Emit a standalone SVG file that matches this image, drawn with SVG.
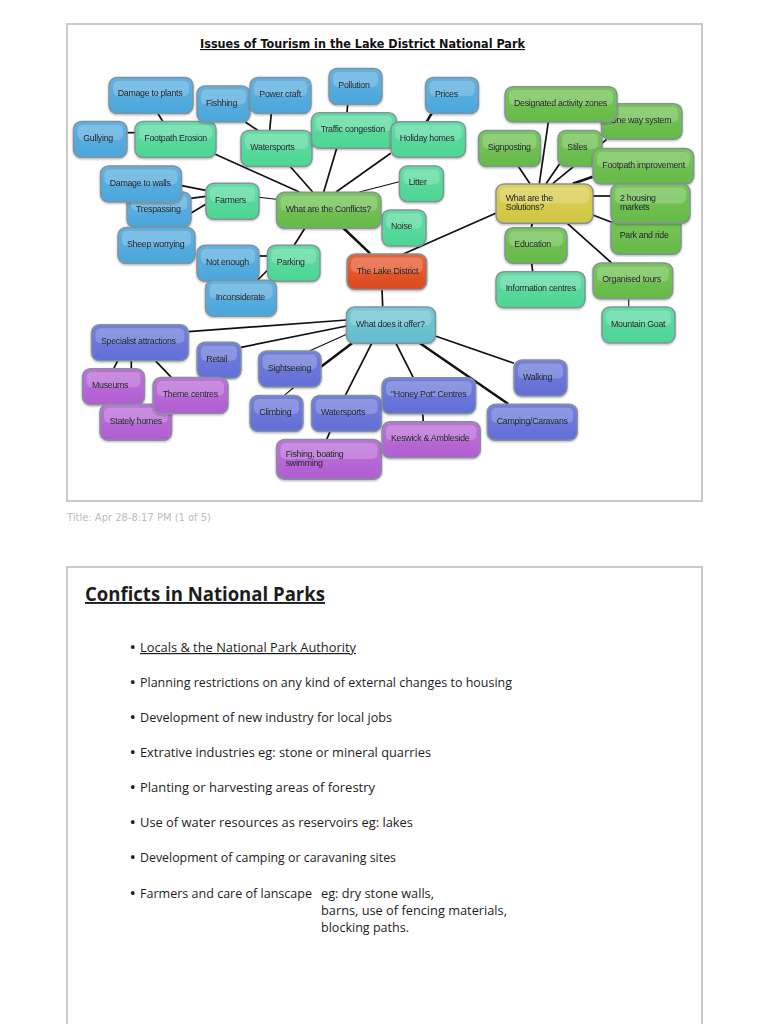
<svg xmlns="http://www.w3.org/2000/svg" width="768" height="1024" viewBox="0 0 768 1024">
<style>
.frame{fill:#fff;stroke:#c9c9c9;stroke-width:2}
.n{stroke:#84939a;stroke-width:1.5}
.g{fill:#fff;fill-opacity:.2;stroke:none}
.t{font:8.8px "Liberation Sans",Arial,sans-serif;letter-spacing:-.27px;fill:#23262c}
.c1{stroke:#111;stroke-width:1.1;fill:none}
.c2{stroke:#111;stroke-width:1.7;fill:none}
.c3{stroke:#111;stroke-width:2.5;fill:none}
.blue{fill:url(#blue)}.mint{fill:url(#mint)}.lime{fill:url(#lime)}.purple{fill:url(#purple)}.peri{fill:url(#peri)}.teal{fill:url(#teal)}.red{fill:url(#red)}.yellow{fill:url(#yellow)}
.h{font-family:"Open Sans","DejaVu Sans",sans-serif;fill:#1c1c1c}
.b{font-size:12px}
.d{font-size:17px}
</style>
<defs>
<linearGradient id="blue" x1="0" y1="0" x2="0" y2="1"><stop offset="0" stop-color="#62b2e0"/><stop offset="1" stop-color="#4aa6dc"/></linearGradient>
<linearGradient id="mint" x1="0" y1="0" x2="0" y2="1"><stop offset="0" stop-color="#62dca6"/><stop offset="1" stop-color="#4cd692"/></linearGradient>
<linearGradient id="lime" x1="0" y1="0" x2="0" y2="1"><stop offset="0" stop-color="#78c65a"/><stop offset="1" stop-color="#66b948"/></linearGradient>
<linearGradient id="purple" x1="0" y1="0" x2="0" y2="1"><stop offset="0" stop-color="#bd74d8"/><stop offset="1" stop-color="#b15dd2"/></linearGradient>
<linearGradient id="peri" x1="0" y1="0" x2="0" y2="1"><stop offset="0" stop-color="#7480da"/><stop offset="1" stop-color="#626ed8"/></linearGradient>
<linearGradient id="teal" x1="0" y1="0" x2="0" y2="1"><stop offset="0" stop-color="#78c8d4"/><stop offset="1" stop-color="#62bccc"/></linearGradient>
<linearGradient id="red" x1="0" y1="0" x2="0" y2="1"><stop offset="0" stop-color="#e8633a"/><stop offset="1" stop-color="#dc4a1e"/></linearGradient>
<linearGradient id="yellow" x1="0" y1="0" x2="0" y2="1"><stop offset="0" stop-color="#dcd158"/><stop offset="1" stop-color="#d0c540"/></linearGradient>
<filter id="s" x="-10%" y="-10%" width="120%" height="125%"><feDropShadow dx="0" dy="1" stdDeviation="0.8" flood-color="#000" flood-opacity=".3"/></filter>
</defs>
<rect class="frame" x="67" y="24" width="635" height="477"/>
<rect class="frame" x="67" y="567" width="635" height="480"/>
<text x="200" y="48" font-family="'DejaVu Sans',sans-serif" font-weight="bold" font-size="11.5" fill="#111" textLength="325" lengthAdjust="spacingAndGlyphs" text-decoration="underline">Issues of Tourism in the Lake District National Park</text>
<g id="connectors">
<line class="c2" x1="157.7" y1="113.3" x2="162.7" y2="121.3"/>
<line class="c2" x1="127" y1="132.7" x2="135" y2="132.7"/>
<line class="c2" x1="245.3" y1="122" x2="257.7" y2="130.3"/>
<line class="c2" x1="271.3" y1="113.3" x2="269.7" y2="130.3"/>
<line class="c2" x1="347.7" y1="104" x2="347" y2="112.7"/>
<line class="c2" x1="215.3" y1="154.3" x2="299.3" y2="192"/>
<line class="c2" x1="290" y1="166.3" x2="312.7" y2="192"/>
<line class="c2" x1="336.7" y1="148.3" x2="323.7" y2="192"/>
<line class="c2" x1="390.7" y1="153.3" x2="336" y2="192"/>
<line class="c1" x1="399.3" y1="181.7" x2="359.3" y2="192"/>
<line class="c1" x1="258.7" y1="197.3" x2="276" y2="199.3"/>
<line class="c2" x1="181.7" y1="185.7" x2="205.7" y2="190.3"/>
<line class="c2" x1="190.7" y1="198.3" x2="205.7" y2="196.3"/>
<line class="c2" x1="190.7" y1="213.3" x2="205.7" y2="204.3"/>
<line class="c2" x1="305" y1="228" x2="294.3" y2="245"/>
<line class="c3" x1="343.3" y1="228" x2="370" y2="253.3"/>
<line class="c2" x1="258.7" y1="256" x2="267.3" y2="256"/>
<line class="c2" x1="257.7" y1="280" x2="267.7" y2="270"/>
<line class="c2" x1="403.3" y1="254" x2="495.7" y2="213.3"/>
<line class="c2" x1="382" y1="289.3" x2="382.7" y2="306.7"/>
<line class="c3" x1="431.7" y1="113.3" x2="426.7" y2="121.7"/>
<line class="c2" x1="548.3" y1="122" x2="539.3" y2="183.7"/>
<line class="c2" x1="518.3" y1="166.3" x2="530" y2="183.7"/>
<line class="c2" x1="560" y1="163.3" x2="546" y2="183.7"/>
<line class="c2" x1="606.7" y1="139.3" x2="552.7" y2="183.7"/>
<line class="c3" x1="592.7" y1="176.7" x2="572.7" y2="183.7"/>
<line class="c2" x1="592.7" y1="196" x2="610.7" y2="196"/>
<line class="c2" x1="592.7" y1="215" x2="611.7" y2="222.3"/>
<line class="c2" x1="532.3" y1="223.3" x2="531.3" y2="227.7"/>
<line class="c2" x1="531.7" y1="263.3" x2="532.7" y2="271.7"/>
<line class="c2" x1="567.3" y1="223.3" x2="611.7" y2="263"/>
<line class="c1" x1="628.7" y1="298.7" x2="628.7" y2="307"/>
<line class="c2" x1="188.3" y1="331.7" x2="346.7" y2="320"/>
<line class="c2" x1="241" y1="347.3" x2="346.7" y2="326"/>
<line class="c1" x1="309.3" y1="351" x2="346.7" y2="334.3"/>
<line class="c3" x1="321" y1="366.7" x2="352" y2="343.3"/>
<line class="c2" x1="345.3" y1="395.3" x2="371.7" y2="343.3"/>
<line class="c2" x1="117.7" y1="360.7" x2="113.7" y2="368.7"/>
<line class="c2" x1="131.3" y1="360.7" x2="131.3" y2="404"/>
<line class="c2" x1="155.3" y1="360.7" x2="171.3" y2="377.3"/>
<line class="c1" x1="294.3" y1="387" x2="284.3" y2="395.3"/>
<line class="c2" x1="330" y1="431.7" x2="326.7" y2="439.3"/>
<line class="c2" x1="396" y1="343.3" x2="413.3" y2="377.7"/>
<line class="c3" x1="420" y1="343.3" x2="508.3" y2="404"/>
<line class="c2" x1="435.3" y1="336" x2="514" y2="363.3"/>
<line class="c2" x1="422.7" y1="413.7" x2="423.3" y2="421.7"/>
</g>
<g id="n-dplants" filter="url(#s)"><rect class="n blue" x="109" y="77.5" width="84" height="36" rx="8"/><rect class="g" x="113" y="81" width="76" height="15" rx="5"/><text class="t" x="117.7" y="96">Damage to plants</text></g>
<g id="n-gullying" filter="url(#s)"><rect class="n blue" x="73.5" y="121.5" width="53.5" height="36" rx="8"/><rect class="g" x="77.5" y="125" width="45.5" height="15" rx="5"/><text class="t" x="83.3" y="141">Gullying</text></g>
<g id="n-footpath" filter="url(#s)"><rect class="n mint" x="135" y="121.5" width="81" height="36" rx="8"/><rect class="g" x="139" y="125" width="73" height="15" rx="5"/><text class="t" x="144.3" y="141">Footpath Erosion</text></g>
<g id="n-fishhing" filter="url(#s)"><rect class="n blue" x="197" y="86" width="53" height="36" rx="8"/><rect class="g" x="201" y="89.5" width="45" height="15" rx="5"/><text class="t" x="206" y="106">Fishhing</text></g>
<g id="n-power" filter="url(#s)"><rect class="n blue" x="250" y="77.5" width="61" height="36" rx="8"/><rect class="g" x="254" y="81" width="53" height="15" rx="5"/><text class="t" x="259.3" y="97">Power craft</text></g>
<g id="n-pollution" filter="url(#s)"><rect class="n blue" x="329" y="68.5" width="53" height="36" rx="8"/><rect class="g" x="333" y="72" width="45" height="15" rx="5"/><text class="t" x="338.3" y="88.3">Pollution</text></g>
<g id="n-watersports1" filter="url(#s)"><rect class="n mint" x="241" y="130.5" width="71" height="36" rx="8"/><rect class="g" x="245" y="134" width="63" height="15" rx="5"/><text class="t" x="250.3" y="150.3">Watersports</text></g>
<g id="n-traffic" filter="url(#s)"><rect class="n mint" x="311.5" y="112.7" width="85" height="35.6" rx="8"/><rect class="g" x="315.5" y="116" width="77" height="15" rx="5"/><text class="t" x="320.7" y="132.3">Traffic congestion</text></g>
<g id="n-holiday" filter="url(#s)"><rect class="n mint" x="391" y="121.7" width="74.5" height="35.6" rx="8"/><rect class="g" x="395" y="125" width="66.5" height="15" rx="5"/><text class="t" x="399.7" y="141.3">Holiday homes</text></g>
<g id="n-prices" filter="url(#s)"><rect class="n blue" x="425.5" y="77.5" width="53" height="36" rx="8"/><rect class="g" x="429.5" y="81" width="45" height="15" rx="5"/><text class="t" x="435" y="96.7">Prices</text></g>
<g id="n-litter" filter="url(#s)"><rect class="n mint" x="399.5" y="166" width="44" height="35.7" rx="8"/><rect class="g" x="403.5" y="169.5" width="36" height="15" rx="5"/><text class="t" x="408.7" y="185.3">Litter</text></g>
<g id="n-noise" filter="url(#s)"><rect class="n mint" x="382" y="210" width="44" height="36" rx="8"/><rect class="g" x="386" y="213.5" width="36" height="15" rx="5"/><text class="t" x="391" y="229.3">Noise</text></g>
<g id="n-trespassing" filter="url(#s)"><rect class="n blue" x="127" y="192" width="64" height="35.5" rx="8"/><rect class="g" x="131" y="195.5" width="56" height="15" rx="5"/><text class="t" x="136" y="212">Trespassing</text></g>
<g id="n-dwalls" filter="url(#s)"><rect class="n blue" x="100.5" y="166" width="81" height="36" rx="8"/><rect class="g" x="104.5" y="169.5" width="73" height="15" rx="5"/><text class="t" x="109.7" y="185.7">Damage to walls</text></g>
<g id="n-sheep" filter="url(#s)"><rect class="n blue" x="118" y="227.5" width="77" height="36" rx="8"/><rect class="g" x="122" y="231" width="69" height="15" rx="5"/><text class="t" x="127" y="247.3">Sheep worrying</text></g>
<g id="n-farmers" filter="url(#s)"><rect class="n mint" x="206" y="183.3" width="53" height="36" rx="8"/><rect class="g" x="210" y="186.8" width="45" height="15" rx="5"/><text class="t" x="215" y="203">Farmers</text></g>
<g id="n-conflicts" filter="url(#s)"><rect class="n lime" x="276.5" y="192.3" width="104.5" height="36" rx="8"/><rect class="g" x="280.5" y="195.8" width="96.5" height="15" rx="5"/><text class="t" x="285.7" y="211.7">What are the Conflicts?</text></g>
<g id="n-notenough" filter="url(#s)"><rect class="n blue" x="197" y="245.3" width="62" height="36" rx="8"/><rect class="g" x="201" y="248.8" width="54" height="15" rx="5"/><text class="t" x="206" y="265">Not enough</text></g>
<g id="n-parking" filter="url(#s)"><rect class="n mint" x="267.5" y="245.3" width="52.5" height="36" rx="8"/><rect class="g" x="271.5" y="248.8" width="44.5" height="15" rx="5"/><text class="t" x="276.7" y="265">Parking</text></g>
<g id="n-inconsiderate" filter="url(#s)"><rect class="n blue" x="205.5" y="280.3" width="71" height="36" rx="8"/><rect class="g" x="209.5" y="283.8" width="63" height="15" rx="5"/><text class="t" x="215.7" y="300">Inconsiderate</text></g>
<g id="n-lake" filter="url(#s)"><rect class="n red" x="347" y="254" width="79.7" height="35.5" rx="8"/><rect class="g" x="351" y="257.5" width="71.7" height="15" rx="5"/><text class="t" x="356.7" y="273.7">The Lake District</text></g>
<g id="n-oneway" filter="url(#s)"><rect class="n lime" x="601.5" y="103.7" width="80.5" height="35.6" rx="8"/><rect class="g" x="605.5" y="107" width="72.5" height="15" rx="5"/><text class="t" x="610" y="123">One way system</text></g>
<g id="n-designated" filter="url(#s)"><rect class="n lime" x="505" y="86.7" width="112" height="35.4" rx="8"/><rect class="g" x="509" y="90" width="104" height="15" rx="5"/><text class="t" x="514" y="106">Designated activity zones</text></g>
<g id="n-signposting" filter="url(#s)"><rect class="n lime" x="478.5" y="130.5" width="62" height="36" rx="8"/><rect class="g" x="482.5" y="134" width="54" height="15" rx="5"/><text class="t" x="487.7" y="150">Signposting</text></g>
<g id="n-stiles" filter="url(#s)"><rect class="n lime" x="558" y="130.5" width="44" height="36" rx="8"/><rect class="g" x="562" y="134" width="36" height="15" rx="5"/><text class="t" x="567.3" y="150">Stiles</text></g>
<g id="n-fimprove" filter="url(#s)"><rect class="n lime" x="593" y="148.5" width="100.7" height="35.5" rx="8"/><rect class="g" x="597" y="152" width="92.7" height="15" rx="5"/><text class="t" x="602.3" y="167.7">Footpath improvement</text></g>
<g id="n-parkride" filter="url(#s)"><rect class="n lime" x="611" y="218" width="70" height="36.3" rx="8"/><text class="t" x="619.7" y="238.3">Park and ride</text></g>
<g id="n-housing" filter="url(#s)"><rect class="n lime" x="611" y="184" width="79" height="39.3" rx="8"/><rect class="g" x="615" y="187.5" width="71" height="16" rx="5"/><text class="t" x="620" y="201">2 housing</text><text class="t" x="620" y="209.7">markets</text></g>
<g id="n-solutions" filter="url(#s)"><rect class="n yellow" x="496" y="184" width="97" height="39.3" rx="8"/><rect class="g" x="500" y="187.5" width="89" height="16" rx="5"/><text class="t" x="505.7" y="201">What are the</text><text class="t" x="505.7" y="209.7">Solutions?</text></g>
<g id="n-education" filter="url(#s)"><rect class="n lime" x="505" y="227.8" width="62" height="35.5" rx="8"/><rect class="g" x="509" y="231.3" width="54" height="15" rx="5"/><text class="t" x="514.3" y="247">Education</text></g>
<g id="n-info" filter="url(#s)"><rect class="n mint" x="496" y="271.8" width="89" height="36" rx="8"/><rect class="g" x="500" y="275.3" width="81" height="15" rx="5"/><text class="t" x="505.7" y="291.3">Information centres</text></g>
<g id="n-organised" filter="url(#s)"><rect class="n lime" x="593" y="263" width="79.7" height="35.7" rx="8"/><rect class="g" x="597" y="266.5" width="71.7" height="15" rx="5"/><text class="t" x="602.3" y="282.3">Organised tours</text></g>
<g id="n-goat" filter="url(#s)"><rect class="n mint" x="602" y="307" width="73" height="36" rx="8"/><rect class="g" x="606" y="310.5" width="65" height="15" rx="5"/><text class="t" x="611" y="326.7">Mountain Goat</text></g>
<g id="n-offer" filter="url(#s)"><rect class="n teal" x="346.5" y="307" width="89" height="36.3" rx="8"/><rect class="g" x="350.5" y="310.5" width="81" height="15" rx="5"/><text class="t" x="356" y="326.7">What does it offer?</text></g>
<g id="n-specialist" filter="url(#s)"><rect class="n peri" x="91.5" y="324.8" width="97" height="36" rx="8"/><rect class="g" x="95.5" y="328.3" width="89" height="15" rx="5"/><text class="t" x="101" y="344.3">Specialist attractions</text></g>
<g id="n-retail" filter="url(#s)"><rect class="n peri" x="197" y="342.3" width="44" height="36" rx="8"/><rect class="g" x="201" y="345.8" width="36" height="15" rx="5"/><text class="t" x="206.3" y="362">Retail</text></g>
<g id="n-sightseeing" filter="url(#s)"><rect class="n peri" x="258.5" y="351" width="62.5" height="36" rx="8"/><rect class="g" x="262.5" y="354.5" width="54.5" height="15" rx="5"/><text class="t" x="268" y="370.7">Sightseeing</text></g>
<g id="n-museums" filter="url(#s)"><rect class="n purple" x="82.5" y="368.8" width="62" height="36" rx="8"/><rect class="g" x="86.5" y="372.3" width="54" height="15" rx="5"/><text class="t" x="92" y="388.3">Museums</text></g>
<g id="n-stately" filter="url(#s)"><rect class="n purple" x="100" y="404.3" width="71.7" height="36" rx="8"/><rect class="g" x="104" y="407.8" width="63.7" height="15" rx="5"/><text class="t" x="109.7" y="424">Stately homes</text></g>
<g id="n-theme" filter="url(#s)"><rect class="n purple" x="153" y="377.5" width="75" height="36" rx="8"/><rect class="g" x="157" y="381" width="67" height="15" rx="5"/><text class="t" x="162.7" y="397.3">Theme centres</text></g>
<g id="n-climbing" filter="url(#s)"><rect class="n peri" x="250" y="395.5" width="53" height="36" rx="8"/><rect class="g" x="254" y="399" width="45" height="15" rx="5"/><text class="t" x="259.3" y="415">Climbing</text></g>
<g id="n-watersports2" filter="url(#s)"><rect class="n peri" x="311.5" y="395.5" width="70" height="36" rx="8"/><rect class="g" x="315.5" y="399" width="62" height="15" rx="5"/><text class="t" x="321" y="415">Watersports</text></g>
<g id="n-fishing" filter="url(#s)"><rect class="n purple" x="276.5" y="439.5" width="105" height="39.7" rx="8"/><rect class="g" x="280.5" y="443" width="97" height="16" rx="5"/><text class="t" x="285.7" y="457.3">Fishing, boating</text><text class="t" x="285.7" y="465.7">swimming</text></g>
<g id="n-honey" filter="url(#s)"><rect class="n peri" x="382" y="377.8" width="93.7" height="36" rx="8"/><rect class="g" x="386" y="381.3" width="85.7" height="15" rx="5"/><text class="t" x="391" y="397.3">"Honey Pot" Centres</text></g>
<g id="n-keswick" filter="url(#s)"><rect class="n purple" x="382" y="421.8" width="98.3" height="36" rx="8"/><rect class="g" x="386" y="425.3" width="90.3" height="15" rx="5"/><text class="t" x="391" y="441.3">Keswick &amp; Ambleside</text></g>
<g id="n-walking" filter="url(#s)"><rect class="n peri" x="514" y="360" width="53" height="36" rx="8"/><rect class="g" x="518" y="363.5" width="45" height="15" rx="5"/><text class="t" x="523" y="379.7">Walking</text></g>
<g id="n-camping" filter="url(#s)"><rect class="n peri" x="487.3" y="404.3" width="90" height="36" rx="8"/><rect class="g" x="491.3" y="407.8" width="82" height="15" rx="5"/><text class="t" x="496.7" y="423.7">Camping/Caravans</text></g>
<text x="67" y="521" font-family="'DejaVu Sans',sans-serif" font-size="10" fill="#bdbdbd" textLength="144" lengthAdjust="spacingAndGlyphs">Title: Apr 28-8:17 PM (1 of 5)</text>
<text class="h" x="85" y="601" font-size="19" font-weight="bold" textLength="240" lengthAdjust="spacingAndGlyphs" text-decoration="underline">Conficts in National Parks</text>
<g class="h b">
<text class="d" x="129.5" y="653">•</text><text x="140" y="652" textLength="216" lengthAdjust="spacingAndGlyphs" text-decoration="underline">Locals &amp; the National Park Authority</text>
<text class="d" x="129.5" y="688">•</text><text x="140" y="687" textLength="372" lengthAdjust="spacingAndGlyphs">Planning restrictions on any kind of external changes to housing</text>
<text class="d" x="129.5" y="723">•</text><text x="140" y="722" textLength="252" lengthAdjust="spacingAndGlyphs">Development of new industry for local jobs</text>
<text class="d" x="129.5" y="758">•</text><text x="140" y="757" textLength="291" lengthAdjust="spacingAndGlyphs">Extrative industries eg: stone or mineral quarries</text>
<text class="d" x="129.5" y="793">•</text><text x="140" y="792" textLength="235" lengthAdjust="spacingAndGlyphs">Planting or harvesting areas of forestry</text>
<text class="d" x="129.5" y="828">•</text><text x="140" y="827" textLength="273" lengthAdjust="spacingAndGlyphs">Use of water resources as reservoirs eg: lakes</text>
<text class="d" x="129.5" y="863">•</text><text x="140" y="862" textLength="256" lengthAdjust="spacingAndGlyphs">Development of camping or caravaning sites</text>
<text class="d" x="129.5" y="899">•</text><text x="140" y="898" textLength="172" lengthAdjust="spacingAndGlyphs">Farmers and care of lanscape</text><text x="321" y="898" textLength="113" lengthAdjust="spacingAndGlyphs">eg: dry stone walls,</text>
<text x="321" y="915" textLength="186" lengthAdjust="spacingAndGlyphs">barns, use of fencing materials,</text>
<text x="321" y="932" textLength="88" lengthAdjust="spacingAndGlyphs">blocking paths.</text>
</g>
</svg>
